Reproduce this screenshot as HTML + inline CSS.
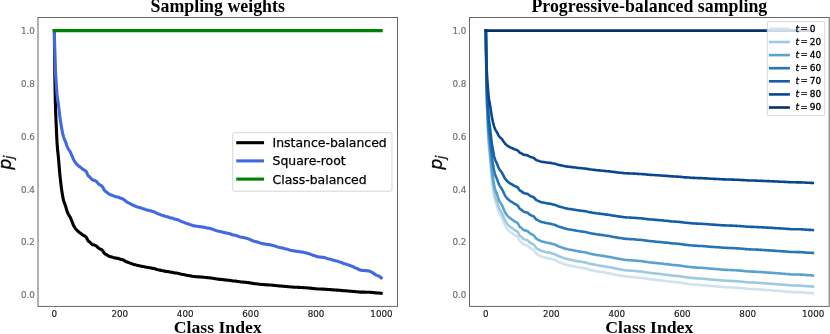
<!DOCTYPE html>
<html lang="en"><head><meta charset="utf-8"><title>Sampling weights</title>
<style>
html,body{margin:0;padding:0;background:#fff;overflow:hidden}
svg{display:block}
text{white-space:pre}
.tk{font-family:'DejaVu Sans','Liberation Sans',sans-serif;font-size:8.75px;stroke-width:0.2px}
.ser{font-family:'Liberation Serif','Times New Roman',serif;font-weight:bold;font-size:17.70px;fill:#000}
.ll{font-family:'DejaVu Sans','Liberation Sans',sans-serif;font-size:12.45px;fill:#000;stroke:#000;stroke-width:0.25px}
.lr{font-family:'DejaVu Sans','Liberation Sans',sans-serif;font-size:9.00px;fill:#000;stroke:#000;stroke-width:0.3px}
.c{fill:none;stroke-linecap:square;stroke-linejoin:round}
</style></head><body>
<svg width="830" height="334" viewBox="0 0 830 334">
<rect width="830" height="334" fill="#fff"/>
<g class="c" stroke-width="3.10">
<path stroke="#000" d="M54.34 30.63 L54.67 62.44 L55.00 85.78 L55.32 101.47 L55.65 111.76 L55.98 119.65 L56.30 127.16 L56.63 134.60 L56.96 141.29 L57.29 146.09 L57.61 149.78 L57.94 153.00 L58.27 156.19 L58.59 159.60 L58.92 163.34 L59.25 167.35 L59.58 171.33 L59.90 174.97 L60.23 178.17 L60.56 181.15 L60.88 183.90 L61.21 186.49 L61.54 188.93 L61.87 191.21 L62.19 193.34 L62.52 195.32 L62.85 197.10 L63.17 198.66 L63.50 200.01 L63.83 201.18 L64.16 202.22 L64.48 203.14 L64.81 203.99 L65.14 204.86 L65.46 205.81 L65.79 206.85 L66.12 207.95 L66.45 209.07 L66.77 210.20 L67.10 211.27 L67.43 212.20 L67.75 212.97 L68.08 213.65 L68.41 214.25 L68.74 214.80 L69.06 215.34 L69.39 215.89 L69.72 216.47 L70.04 217.07 L70.37 217.72 L70.70 218.41 L71.03 219.14 L71.35 219.94 L71.68 220.77 L72.01 221.61 L72.33 222.45 L72.66 223.26 L72.99 224.04 L73.32 224.79 L73.64 225.49 L73.97 226.14 L74.30 226.71 L74.62 227.24 L74.95 227.78 L75.28 228.32 L75.61 228.76 L75.93 229.14 L76.26 229.49 L76.59 229.82 L76.91 230.15 L77.24 230.47 L77.57 230.80 L77.90 231.13 L78.22 231.46 L78.55 231.76 L78.88 232.03 L79.20 232.27 L79.53 232.49 L79.86 232.71 L80.19 232.94 L80.51 233.19 L81.49 233.95 L82.48 234.70 L83.46 235.42 L84.44 235.87 L85.42 236.48 L86.40 237.36 L87.38 239.54 L88.36 241.21 L89.35 241.75 L90.33 242.58 L91.31 243.79 L92.29 244.49 L93.27 244.90 L94.25 245.08 L95.23 245.37 L96.22 245.83 L97.20 246.79 L98.18 247.80 L99.16 248.50 L100.14 249.02 L101.12 249.41 L102.10 250.07 L103.09 251.22 L104.07 252.85 L105.05 253.85 L106.03 254.45 L107.01 254.96 L107.99 255.65 L108.97 256.17 L109.96 256.53 L110.94 256.87 L111.92 257.03 L112.90 257.37 L113.88 257.67 L114.86 257.86 L115.84 258.13 L116.83 258.36 L117.81 258.36 L118.79 258.58 L119.77 258.96 L120.75 259.38 L121.73 259.56 L122.71 259.78 L123.70 260.22 L124.68 260.78 L125.66 261.33 L126.64 261.82 L127.62 262.19 L128.60 262.56 L129.58 262.92 L130.57 263.24 L131.55 263.65 L132.53 263.99 L133.51 264.43 L134.49 264.66 L135.47 264.77 L136.45 265.12 L137.44 265.41 L138.42 265.54 L139.40 265.71 L140.38 265.90 L141.36 266.14 L142.34 266.37 L143.32 266.56 L144.31 266.72 L145.29 266.98 L146.27 267.18 L147.25 267.34 L148.23 267.54 L149.21 267.72 L150.19 267.79 L151.18 268.00 L152.16 268.19 L153.14 268.35 L154.12 268.54 L155.10 268.80 L156.08 269.18 L157.06 269.44 L158.05 269.72 L159.03 269.91 L160.01 270.13 L160.99 270.37 L161.97 270.57 L162.95 270.70 L163.93 270.89 L164.92 271.16 L165.90 271.37 L166.88 271.51 L167.86 271.58 L168.84 271.80 L169.82 272.02 L170.80 272.16 L171.79 272.19 L172.77 272.37 L173.75 272.66 L174.73 272.86 L175.71 272.94 L176.69 273.06 L177.67 273.26 L178.66 273.41 L179.64 273.71 L180.62 273.97 L181.60 274.21 L182.58 274.42 L183.56 274.56 L184.54 274.79 L185.53 275.00 L186.51 275.22 L187.49 275.46 L188.47 275.55 L189.45 275.70 L190.43 275.90 L191.41 276.04 L192.40 276.26 L193.38 276.46 L194.36 276.53 L195.34 276.62 L196.32 276.70 L197.30 276.77 L198.28 276.84 L199.27 276.91 L200.25 277.01 L201.23 277.03 L202.21 277.09 L203.19 277.19 L204.17 277.31 L205.15 277.44 L206.14 277.54 L207.12 277.62 L208.10 277.71 L209.08 277.76 L210.06 277.83 L211.04 277.98 L212.02 278.18 L213.01 278.32 L213.99 278.46 L214.97 278.67 L215.95 278.84 L216.93 279.00 L217.91 279.13 L218.90 279.25 L219.88 279.35 L220.86 279.41 L221.84 279.51 L222.82 279.65 L223.80 279.79 L224.78 279.88 L225.77 279.99 L226.75 280.09 L227.73 280.19 L228.71 280.30 L229.69 280.40 L230.67 280.52 L231.65 280.73 L232.64 280.90 L233.62 280.99 L234.60 281.05 L235.58 281.11 L236.56 281.24 L237.54 281.42 L238.52 281.59 L239.51 281.74 L240.49 281.87 L241.47 281.96 L242.45 282.01 L243.43 282.09 L244.41 282.20 L245.39 282.30 L246.38 282.39 L247.36 282.48 L248.34 282.63 L249.32 282.78 L250.30 282.95 L251.28 283.14 L252.26 283.33 L253.25 283.56 L254.23 283.66 L255.21 283.70 L256.19 283.79 L257.17 283.92 L258.15 284.03 L259.13 284.17 L260.12 284.30 L261.10 284.42 L262.08 284.52 L263.06 284.57 L264.04 284.65 L265.02 284.75 L266.00 284.81 L266.99 284.85 L267.97 284.91 L268.95 284.95 L269.93 284.99 L270.91 285.07 L271.89 285.17 L272.87 285.26 L273.86 285.35 L274.84 285.43 L275.82 285.55 L276.80 285.68 L277.78 285.79 L278.76 285.88 L279.74 285.97 L280.73 286.05 L281.71 286.12 L282.69 286.19 L283.67 286.28 L284.65 286.39 L285.63 286.50 L286.61 286.54 L287.60 286.60 L288.58 286.73 L289.56 286.83 L290.54 286.92 L291.52 287.00 L292.50 287.07 L293.48 287.13 L294.47 287.19 L295.45 287.24 L296.43 287.29 L297.41 287.32 L298.39 287.36 L299.37 287.40 L300.35 287.45 L301.34 287.50 L302.32 287.56 L303.30 287.62 L304.28 287.68 L305.26 287.73 L306.24 287.79 L307.22 287.88 L308.21 287.95 L309.19 288.04 L310.17 288.16 L311.15 288.29 L312.13 288.40 L313.11 288.53 L314.09 288.62 L315.08 288.69 L316.06 288.81 L317.04 288.91 L318.02 288.96 L319.00 289.01 L319.98 289.04 L320.96 289.06 L321.95 289.08 L322.93 289.12 L323.91 289.17 L324.89 289.23 L325.87 289.32 L326.85 289.40 L327.83 289.49 L328.82 289.55 L329.80 289.60 L330.78 289.67 L331.76 289.76 L332.74 289.84 L333.72 289.91 L334.70 289.99 L335.69 290.06 L336.67 290.10 L337.65 290.16 L338.63 290.25 L339.61 290.32 L340.59 290.39 L341.57 290.49 L342.56 290.59 L343.54 290.69 L344.52 290.78 L345.50 290.82 L346.48 290.89 L347.46 290.96 L348.44 291.04 L349.43 291.10 L350.41 291.18 L351.39 291.27 L352.37 291.35 L353.35 291.45 L354.33 291.55 L355.31 291.65 L356.30 291.71 L357.28 291.79 L358.26 291.90 L359.24 292.02 L360.22 292.08 L361.20 292.11 L362.18 292.13 L363.17 292.15 L364.15 292.15 L365.13 292.17 L366.11 292.18 L367.09 292.19 L368.07 292.21 L369.05 292.25 L370.04 292.30 L371.02 292.39 L372.00 292.48 L372.98 292.58 L373.96 292.65 L374.94 292.78 L375.92 292.87 L376.91 292.94 L377.89 292.99 L378.87 293.03 L379.85 293.12 L380.83 293.23 L381.16 293.27"/>
<path stroke="#4169e1" d="M54.34 30.63 L54.67 47.05 L55.00 59.82 L55.32 68.82 L55.65 74.91 L55.98 79.71 L56.30 84.38 L56.63 89.10 L56.96 93.44 L57.29 96.62 L57.61 99.09 L57.94 101.28 L58.27 103.47 L58.59 105.84 L58.92 108.47 L59.25 111.34 L59.58 114.23 L59.90 116.92 L60.23 119.32 L60.56 121.58 L60.88 123.69 L61.21 125.70 L61.54 127.62 L61.87 129.43 L62.19 131.14 L62.52 132.75 L62.85 134.21 L63.17 135.50 L63.50 136.63 L63.83 137.61 L64.16 138.48 L64.48 139.26 L64.81 139.99 L65.14 140.73 L65.46 141.55 L65.79 142.45 L66.12 143.41 L66.45 144.39 L66.77 145.39 L67.10 146.34 L67.43 147.17 L67.75 147.86 L68.08 148.47 L68.41 149.02 L68.74 149.52 L69.06 150.01 L69.39 150.52 L69.72 151.04 L70.04 151.61 L70.37 152.20 L70.70 152.84 L71.03 153.53 L71.35 154.27 L71.68 155.06 L72.01 155.86 L72.33 156.66 L72.66 157.44 L72.99 158.19 L73.32 158.92 L73.64 159.61 L73.97 160.24 L74.30 160.80 L74.62 161.33 L74.95 161.87 L75.28 162.40 L75.61 162.85 L75.93 163.22 L76.26 163.58 L76.59 163.92 L76.91 164.24 L77.24 164.57 L77.57 164.90 L77.90 165.24 L78.22 165.58 L78.55 165.89 L78.88 166.17 L79.20 166.41 L79.53 166.64 L79.86 166.87 L80.19 167.11 L80.51 167.37 L81.49 168.15 L82.48 168.95 L83.46 169.71 L84.44 170.18 L85.42 170.83 L86.40 171.77 L87.38 174.14 L88.36 175.98 L89.35 176.59 L90.33 177.52 L91.31 178.89 L92.29 179.70 L93.27 180.17 L94.25 180.38 L95.23 180.72 L96.22 181.26 L97.20 182.38 L98.18 183.57 L99.16 184.41 L100.14 185.03 L101.12 185.51 L102.10 186.31 L103.09 187.73 L104.07 189.76 L105.05 191.03 L106.03 191.80 L107.01 192.46 L107.99 193.35 L108.97 194.03 L109.96 194.50 L110.94 194.96 L111.92 195.17 L112.90 195.62 L113.88 196.03 L114.86 196.28 L115.84 196.65 L116.83 196.95 L117.81 196.96 L118.79 197.26 L119.77 197.77 L120.75 198.34 L121.73 198.59 L122.71 198.90 L123.70 199.51 L124.68 200.29 L125.66 201.06 L126.64 201.76 L127.62 202.28 L128.60 202.82 L129.58 203.33 L130.57 203.81 L131.55 204.40 L132.53 204.91 L133.51 205.55 L134.49 205.90 L135.47 206.06 L136.45 206.59 L137.44 207.03 L138.42 207.21 L139.40 207.47 L140.38 207.77 L141.36 208.13 L142.34 208.48 L143.32 208.78 L144.31 209.02 L145.29 209.43 L146.27 209.74 L147.25 209.99 L148.23 210.30 L149.21 210.59 L150.19 210.70 L151.18 211.02 L152.16 211.33 L153.14 211.58 L154.12 211.89 L155.10 212.30 L156.08 212.92 L157.06 213.34 L158.05 213.79 L159.03 214.11 L160.01 214.47 L160.99 214.88 L161.97 215.20 L162.95 215.41 L163.93 215.73 L164.92 216.19 L165.90 216.55 L166.88 216.79 L167.86 216.91 L168.84 217.28 L169.82 217.66 L170.80 217.90 L171.79 217.95 L172.77 218.25 L173.75 218.76 L174.73 219.11 L175.71 219.25 L176.69 219.46 L177.67 219.81 L178.66 220.09 L179.64 220.63 L180.62 221.09 L181.60 221.52 L182.58 221.91 L183.56 222.16 L184.54 222.58 L185.53 222.97 L186.51 223.37 L187.49 223.81 L188.47 223.99 L189.45 224.28 L190.43 224.65 L191.41 224.91 L192.40 225.34 L193.38 225.71 L194.36 225.85 L195.34 226.02 L196.32 226.19 L197.30 226.32 L198.28 226.46 L199.27 226.59 L200.25 226.78 L201.23 226.83 L202.21 226.94 L203.19 227.14 L204.17 227.36 L205.15 227.63 L206.14 227.82 L207.12 227.99 L208.10 228.16 L209.08 228.26 L210.06 228.40 L211.04 228.71 L212.02 229.11 L213.01 229.39 L213.99 229.68 L214.97 230.10 L215.95 230.46 L216.93 230.78 L217.91 231.06 L218.90 231.31 L219.88 231.51 L220.86 231.64 L221.84 231.86 L222.82 232.16 L223.80 232.44 L224.78 232.64 L225.77 232.88 L226.75 233.08 L227.73 233.31 L228.71 233.55 L229.69 233.77 L230.67 234.03 L231.65 234.48 L232.64 234.86 L233.62 235.07 L234.60 235.18 L235.58 235.34 L236.56 235.63 L237.54 236.03 L238.52 236.41 L239.51 236.76 L240.49 237.05 L241.47 237.27 L242.45 237.38 L243.43 237.57 L244.41 237.81 L245.39 238.04 L246.38 238.26 L247.36 238.47 L248.34 238.83 L249.32 239.19 L250.30 239.59 L251.28 240.06 L252.26 240.52 L253.25 241.08 L254.23 241.33 L255.21 241.43 L256.19 241.66 L257.17 241.98 L258.15 242.28 L259.13 242.62 L260.12 242.94 L261.10 243.27 L262.08 243.53 L263.06 243.64 L264.04 243.87 L265.02 244.12 L266.00 244.28 L266.99 244.39 L267.97 244.54 L268.95 244.65 L269.93 244.77 L270.91 244.97 L271.89 245.23 L272.87 245.49 L273.86 245.73 L274.84 245.94 L275.82 246.26 L276.80 246.63 L277.78 246.93 L278.76 247.19 L279.74 247.45 L280.73 247.67 L281.71 247.87 L282.69 248.05 L283.67 248.31 L284.65 248.62 L285.63 248.94 L286.61 249.08 L287.60 249.25 L288.58 249.62 L289.56 249.93 L290.54 250.19 L291.52 250.44 L292.50 250.64 L293.48 250.81 L294.47 251.01 L295.45 251.15 L296.43 251.30 L297.41 251.40 L298.39 251.54 L299.37 251.66 L300.35 251.81 L301.34 251.98 L302.32 252.15 L303.30 252.34 L304.28 252.52 L305.26 252.68 L306.24 252.87 L307.22 253.16 L308.21 253.39 L309.19 253.67 L310.17 254.08 L311.15 254.49 L312.13 254.87 L313.11 255.29 L314.09 255.61 L315.08 255.83 L316.06 256.25 L317.04 256.62 L318.02 256.78 L319.00 256.95 L319.98 257.06 L320.96 257.13 L321.95 257.22 L322.93 257.36 L323.91 257.54 L324.89 257.73 L325.87 258.07 L326.85 258.37 L327.83 258.68 L328.82 258.90 L329.80 259.09 L330.78 259.38 L331.76 259.71 L332.74 260.03 L333.72 260.27 L334.70 260.59 L335.69 260.86 L336.67 261.03 L337.65 261.27 L338.63 261.63 L339.61 261.92 L340.59 262.19 L341.57 262.61 L342.56 263.03 L343.54 263.45 L344.52 263.84 L345.50 264.02 L346.48 264.30 L347.46 264.62 L348.44 264.98 L349.43 265.27 L350.41 265.63 L351.39 266.06 L352.37 266.40 L353.35 266.87 L354.33 267.40 L355.31 267.89 L356.30 268.18 L357.28 268.56 L358.26 269.17 L359.24 269.77 L360.22 270.11 L361.20 270.29 L362.18 270.40 L363.17 270.50 L364.15 270.53 L365.13 270.61 L366.11 270.64 L367.09 270.70 L368.07 270.86 L369.05 271.09 L370.04 271.37 L371.02 271.85 L372.00 272.43 L372.98 273.01 L373.96 273.48 L374.94 274.31 L375.92 274.88 L376.91 275.34 L377.89 275.74 L378.87 275.99 L379.85 276.68 L380.83 277.53 L381.16 277.82"/>
<path stroke="#008000" d="M54.34 30.63 L381.16 30.63"/>
</g>
<g class="c" stroke-width="2.60">
<path stroke="#d0e1f2" d="M485.85 30.63 L486.18 62.44 L486.50 85.78 L486.83 101.47 L487.16 111.76 L487.49 119.65 L487.81 127.16 L488.14 134.60 L488.47 141.29 L488.80 146.09 L489.12 149.78 L489.45 153.00 L489.78 156.19 L490.11 159.60 L490.43 163.34 L490.76 167.35 L491.09 171.33 L491.41 174.97 L491.74 178.17 L492.07 181.15 L492.40 183.90 L492.72 186.49 L493.05 188.93 L493.38 191.21 L493.71 193.34 L494.03 195.32 L494.36 197.10 L494.69 198.66 L495.02 200.01 L495.34 201.18 L495.67 202.22 L496.00 203.14 L496.32 203.99 L496.65 204.86 L496.98 205.81 L497.31 206.85 L497.63 207.95 L497.96 209.07 L498.29 210.20 L498.62 211.27 L498.94 212.20 L499.27 212.97 L499.60 213.65 L499.93 214.25 L500.25 214.80 L500.58 215.34 L500.91 215.89 L501.23 216.47 L501.56 217.07 L501.89 217.72 L502.22 218.41 L502.54 219.14 L502.87 219.94 L503.20 220.77 L503.53 221.61 L503.85 222.45 L504.18 223.26 L504.51 224.04 L504.83 224.79 L505.16 225.49 L505.49 226.14 L505.82 226.71 L506.14 227.24 L506.47 227.78 L506.80 228.32 L507.13 228.76 L507.45 229.14 L507.78 229.49 L508.11 229.82 L508.44 230.15 L508.76 230.47 L509.09 230.80 L509.42 231.13 L509.74 231.46 L510.07 231.76 L510.40 232.03 L510.73 232.27 L511.05 232.49 L511.38 232.71 L511.71 232.94 L512.04 233.19 L513.02 233.95 L514.00 234.70 L514.98 235.42 L515.96 235.87 L516.95 236.48 L517.93 237.36 L518.91 239.54 L519.89 241.21 L520.87 241.75 L521.86 242.58 L522.84 243.79 L523.82 244.49 L524.80 244.90 L525.78 245.08 L526.77 245.37 L527.75 245.83 L528.73 246.79 L529.71 247.80 L530.69 248.50 L531.68 249.02 L532.66 249.41 L533.64 250.07 L534.62 251.22 L535.60 252.85 L536.59 253.85 L537.57 254.45 L538.55 254.96 L539.53 255.65 L540.51 256.17 L541.50 256.53 L542.48 256.87 L543.46 257.03 L544.44 257.37 L545.42 257.67 L546.41 257.86 L547.39 258.13 L548.37 258.36 L549.35 258.36 L550.33 258.58 L551.32 258.96 L552.30 259.38 L553.28 259.56 L554.26 259.78 L555.24 260.22 L556.23 260.78 L557.21 261.33 L558.19 261.82 L559.17 262.19 L560.15 262.56 L561.14 262.92 L562.12 263.24 L563.10 263.65 L564.08 263.99 L565.06 264.43 L566.05 264.66 L567.03 264.77 L568.01 265.12 L568.99 265.41 L569.97 265.54 L570.96 265.71 L571.94 265.90 L572.92 266.14 L573.90 266.37 L574.88 266.56 L575.87 266.72 L576.85 266.98 L577.83 267.18 L578.81 267.34 L579.79 267.54 L580.77 267.72 L581.76 267.79 L582.74 268.00 L583.72 268.19 L584.70 268.35 L585.68 268.54 L586.67 268.80 L587.65 269.18 L588.63 269.44 L589.61 269.72 L590.59 269.91 L591.58 270.13 L592.56 270.37 L593.54 270.57 L594.52 270.70 L595.50 270.89 L596.49 271.16 L597.47 271.37 L598.45 271.51 L599.43 271.58 L600.41 271.80 L601.40 272.02 L602.38 272.16 L603.36 272.19 L604.34 272.37 L605.32 272.66 L606.31 272.86 L607.29 272.94 L608.27 273.06 L609.25 273.26 L610.23 273.41 L611.22 273.71 L612.20 273.97 L613.18 274.21 L614.16 274.42 L615.14 274.56 L616.13 274.79 L617.11 275.00 L618.09 275.22 L619.07 275.46 L620.05 275.55 L621.04 275.70 L622.02 275.90 L623.00 276.04 L623.98 276.26 L624.96 276.46 L625.95 276.53 L626.93 276.62 L627.91 276.70 L628.89 276.77 L629.87 276.84 L630.86 276.91 L631.84 277.01 L632.82 277.03 L633.80 277.09 L634.78 277.19 L635.77 277.31 L636.75 277.44 L637.73 277.54 L638.71 277.62 L639.69 277.71 L640.68 277.76 L641.66 277.83 L642.64 277.98 L643.62 278.18 L644.60 278.32 L645.59 278.46 L646.57 278.67 L647.55 278.84 L648.53 279.00 L649.51 279.13 L650.50 279.25 L651.48 279.35 L652.46 279.41 L653.44 279.51 L654.42 279.65 L655.41 279.79 L656.39 279.88 L657.37 279.99 L658.35 280.09 L659.33 280.19 L660.32 280.30 L661.30 280.40 L662.28 280.52 L663.26 280.73 L664.24 280.90 L665.23 280.99 L666.21 281.05 L667.19 281.11 L668.17 281.24 L669.15 281.42 L670.14 281.59 L671.12 281.74 L672.10 281.87 L673.08 281.96 L674.06 282.01 L675.05 282.09 L676.03 282.20 L677.01 282.30 L677.99 282.39 L678.97 282.48 L679.96 282.63 L680.94 282.78 L681.92 282.95 L682.90 283.14 L683.88 283.33 L684.87 283.56 L685.85 283.66 L686.83 283.70 L687.81 283.79 L688.79 283.92 L689.77 284.03 L690.76 284.17 L691.74 284.30 L692.72 284.42 L693.70 284.52 L694.68 284.57 L695.67 284.65 L696.65 284.75 L697.63 284.81 L698.61 284.85 L699.59 284.91 L700.58 284.95 L701.56 284.99 L702.54 285.07 L703.52 285.17 L704.50 285.26 L705.49 285.35 L706.47 285.43 L707.45 285.55 L708.43 285.68 L709.41 285.79 L710.40 285.88 L711.38 285.97 L712.36 286.05 L713.34 286.12 L714.32 286.19 L715.31 286.28 L716.29 286.39 L717.27 286.50 L718.25 286.54 L719.23 286.60 L720.22 286.73 L721.20 286.83 L722.18 286.92 L723.16 287.00 L724.14 287.07 L725.13 287.13 L726.11 287.19 L727.09 287.24 L728.07 287.29 L729.05 287.32 L730.04 287.36 L731.02 287.40 L732.00 287.45 L732.98 287.50 L733.96 287.56 L734.95 287.62 L735.93 287.68 L736.91 287.73 L737.89 287.79 L738.87 287.88 L739.86 287.95 L740.84 288.04 L741.82 288.16 L742.80 288.29 L743.78 288.40 L744.77 288.53 L745.75 288.62 L746.73 288.69 L747.71 288.81 L748.69 288.91 L749.68 288.96 L750.66 289.01 L751.64 289.04 L752.62 289.06 L753.60 289.08 L754.59 289.12 L755.57 289.17 L756.55 289.23 L757.53 289.32 L758.51 289.40 L759.50 289.49 L760.48 289.55 L761.46 289.60 L762.44 289.67 L763.42 289.76 L764.41 289.84 L765.39 289.91 L766.37 289.99 L767.35 290.06 L768.33 290.10 L769.32 290.16 L770.30 290.25 L771.28 290.32 L772.26 290.39 L773.24 290.49 L774.23 290.59 L775.21 290.69 L776.19 290.78 L777.17 290.82 L778.15 290.89 L779.14 290.96 L780.12 291.04 L781.10 291.10 L782.08 291.18 L783.06 291.27 L784.05 291.35 L785.03 291.45 L786.01 291.55 L786.99 291.65 L787.97 291.71 L788.96 291.79 L789.94 291.90 L790.92 292.02 L791.90 292.08 L792.88 292.11 L793.87 292.13 L794.85 292.15 L795.83 292.15 L796.81 292.17 L797.79 292.18 L798.77 292.19 L799.76 292.21 L800.74 292.25 L801.72 292.30 L802.70 292.39 L803.68 292.48 L804.67 292.58 L805.65 292.65 L806.63 292.78 L807.61 292.87 L808.59 292.94 L809.58 292.99 L810.56 293.03 L811.54 293.12 L812.52 293.23 L812.85 293.27"/>
<path stroke="#9dc9e1" d="M485.85 30.63 L486.18 61.64 L486.50 84.39 L486.83 99.69 L487.16 109.71 L487.49 117.41 L487.81 124.73 L488.14 131.98 L488.47 138.50 L488.80 143.18 L489.12 146.78 L489.45 149.91 L489.78 153.02 L490.11 156.35 L490.43 159.99 L490.76 163.90 L491.09 167.78 L491.41 171.34 L491.74 174.45 L492.07 177.36 L492.40 180.04 L492.72 182.56 L493.05 184.94 L493.38 187.16 L493.71 189.24 L494.03 191.16 L494.36 192.90 L494.69 194.43 L495.02 195.74 L495.34 196.89 L495.67 197.89 L496.00 198.79 L496.32 199.62 L496.65 200.47 L496.98 201.39 L497.31 202.41 L497.63 203.48 L497.96 204.57 L498.29 205.67 L498.62 206.72 L498.94 207.62 L499.27 208.37 L499.60 209.03 L499.93 209.62 L500.25 210.16 L500.58 210.68 L500.91 211.22 L501.23 211.78 L501.56 212.38 L501.89 213.00 L502.22 213.67 L502.54 214.39 L502.87 215.16 L503.20 215.97 L503.53 216.80 L503.85 217.62 L504.18 218.40 L504.51 219.16 L504.83 219.89 L505.16 220.58 L505.49 221.21 L505.82 221.77 L506.14 222.29 L506.47 222.81 L506.80 223.33 L507.13 223.77 L507.45 224.14 L507.78 224.48 L508.11 224.80 L508.44 225.12 L508.76 225.44 L509.09 225.75 L509.42 226.08 L509.74 226.39 L510.07 226.69 L510.40 226.96 L510.73 227.19 L511.05 227.40 L511.38 227.62 L511.71 227.84 L512.04 228.09 L513.02 228.82 L514.00 229.56 L514.98 230.26 L515.96 230.69 L516.95 231.29 L517.93 232.15 L518.91 234.27 L519.89 235.90 L520.87 236.43 L521.86 237.23 L522.84 238.41 L523.82 239.10 L524.80 239.50 L525.78 239.67 L526.77 239.96 L527.75 240.41 L528.73 241.34 L529.71 242.33 L530.69 243.01 L531.68 243.51 L532.66 243.90 L533.64 244.53 L534.62 245.66 L535.60 247.25 L536.59 248.23 L537.57 248.81 L538.55 249.31 L539.53 249.98 L540.51 250.48 L541.50 250.83 L542.48 251.17 L543.46 251.33 L544.44 251.65 L545.42 251.95 L546.41 252.13 L547.39 252.40 L548.37 252.62 L549.35 252.62 L550.33 252.84 L551.32 253.21 L552.30 253.61 L553.28 253.79 L554.26 254.01 L555.24 254.43 L556.23 254.98 L557.21 255.51 L558.19 255.99 L559.17 256.35 L560.15 256.71 L561.14 257.06 L562.12 257.38 L563.10 257.77 L564.08 258.11 L565.06 258.53 L566.05 258.76 L567.03 258.87 L568.01 259.21 L568.99 259.49 L569.97 259.61 L570.96 259.78 L571.94 259.97 L572.92 260.20 L573.90 260.42 L574.88 260.61 L575.87 260.77 L576.85 261.02 L577.83 261.22 L578.81 261.38 L579.79 261.57 L580.77 261.75 L581.76 261.82 L582.74 262.01 L583.72 262.20 L584.70 262.36 L585.68 262.55 L586.67 262.80 L587.65 263.17 L588.63 263.42 L589.61 263.69 L590.59 263.88 L591.58 264.10 L592.56 264.33 L593.54 264.52 L594.52 264.64 L595.50 264.83 L596.49 265.10 L597.47 265.31 L598.45 265.44 L599.43 265.51 L600.41 265.72 L601.40 265.94 L602.38 266.07 L603.36 266.10 L604.34 266.27 L605.32 266.56 L606.31 266.75 L607.29 266.83 L608.27 266.94 L609.25 267.14 L610.23 267.29 L611.22 267.59 L612.20 267.84 L613.18 268.07 L614.16 268.28 L615.14 268.41 L616.13 268.63 L617.11 268.84 L618.09 269.05 L619.07 269.29 L620.05 269.38 L621.04 269.53 L622.02 269.72 L623.00 269.85 L623.98 270.07 L624.96 270.26 L625.95 270.33 L626.93 270.42 L627.91 270.50 L628.89 270.57 L629.87 270.64 L630.86 270.70 L631.84 270.80 L632.82 270.82 L633.80 270.88 L634.78 270.98 L635.77 271.09 L636.75 271.22 L637.73 271.31 L638.71 271.40 L639.69 271.48 L640.68 271.53 L641.66 271.60 L642.64 271.75 L643.62 271.94 L644.60 272.08 L645.59 272.22 L646.57 272.42 L647.55 272.58 L648.53 272.74 L649.51 272.87 L650.50 272.98 L651.48 273.08 L652.46 273.14 L653.44 273.24 L654.42 273.38 L655.41 273.51 L656.39 273.60 L657.37 273.70 L658.35 273.80 L659.33 273.90 L660.32 274.01 L661.30 274.11 L662.28 274.22 L663.26 274.42 L664.24 274.59 L665.23 274.68 L666.21 274.73 L667.19 274.80 L668.17 274.93 L669.15 275.10 L670.14 275.26 L671.12 275.41 L672.10 275.54 L673.08 275.63 L674.06 275.67 L675.05 275.76 L676.03 275.86 L677.01 275.95 L677.99 276.04 L678.97 276.13 L679.96 276.28 L680.94 276.43 L681.92 276.59 L682.90 276.78 L683.88 276.96 L684.87 277.18 L685.85 277.28 L686.83 277.32 L687.81 277.41 L688.79 277.53 L689.77 277.65 L690.76 277.78 L691.74 277.90 L692.72 278.03 L693.70 278.12 L694.68 278.17 L695.67 278.25 L696.65 278.34 L697.63 278.40 L698.61 278.44 L699.59 278.50 L700.58 278.54 L701.56 278.58 L702.54 278.66 L703.52 278.75 L704.50 278.84 L705.49 278.93 L706.47 279.01 L707.45 279.12 L708.43 279.25 L709.41 279.36 L710.40 279.45 L711.38 279.54 L712.36 279.61 L713.34 279.68 L714.32 279.74 L715.31 279.83 L716.29 279.94 L717.27 280.05 L718.25 280.09 L719.23 280.15 L720.22 280.27 L721.20 280.37 L722.18 280.46 L723.16 280.54 L724.14 280.60 L725.13 280.66 L726.11 280.72 L727.09 280.77 L728.07 280.82 L729.05 280.85 L730.04 280.89 L731.02 280.93 L732.00 280.98 L732.98 281.03 L733.96 281.09 L734.95 281.14 L735.93 281.20 L736.91 281.25 L737.89 281.31 L738.87 281.39 L739.86 281.46 L740.84 281.55 L741.82 281.67 L742.80 281.79 L743.78 281.90 L744.77 282.03 L745.75 282.12 L746.73 282.18 L747.71 282.30 L748.69 282.40 L749.68 282.45 L750.66 282.49 L751.64 282.53 L752.62 282.54 L753.60 282.57 L754.59 282.61 L755.57 282.66 L756.55 282.71 L757.53 282.80 L758.51 282.88 L759.50 282.96 L760.48 283.02 L761.46 283.07 L762.44 283.14 L763.42 283.23 L764.41 283.31 L765.39 283.37 L766.37 283.45 L767.35 283.52 L768.33 283.56 L769.32 283.62 L770.30 283.71 L771.28 283.78 L772.26 283.84 L773.24 283.94 L774.23 284.04 L775.21 284.13 L776.19 284.22 L777.17 284.26 L778.15 284.33 L779.14 284.40 L780.12 284.47 L781.10 284.54 L782.08 284.61 L783.06 284.70 L784.05 284.77 L785.03 284.87 L786.01 284.98 L786.99 285.07 L787.97 285.13 L788.96 285.20 L789.94 285.32 L790.92 285.43 L791.90 285.49 L792.88 285.52 L793.87 285.54 L794.85 285.56 L795.83 285.56 L796.81 285.58 L797.79 285.58 L798.77 285.59 L799.76 285.62 L800.74 285.66 L801.72 285.71 L802.70 285.79 L803.68 285.88 L804.67 285.98 L805.65 286.05 L806.63 286.18 L807.61 286.26 L808.59 286.32 L809.58 286.38 L810.56 286.41 L811.54 286.50 L812.52 286.61 L812.85 286.65"/>
<path stroke="#59a2cf" d="M485.85 30.63 L486.18 60.30 L486.50 82.06 L486.83 96.69 L487.16 106.28 L487.49 113.64 L487.81 120.65 L488.14 127.58 L488.47 133.82 L488.80 138.29 L489.12 141.73 L489.45 144.74 L489.78 147.71 L490.11 150.89 L490.43 154.38 L490.76 158.12 L491.09 161.83 L491.41 165.23 L491.74 168.21 L492.07 170.99 L492.40 173.56 L492.72 175.97 L493.05 178.24 L493.38 180.37 L493.71 182.35 L494.03 184.20 L494.36 185.86 L494.69 187.32 L495.02 188.58 L495.34 189.67 L495.67 190.63 L496.00 191.49 L496.32 192.29 L496.65 193.10 L496.98 193.98 L497.31 194.95 L497.63 195.98 L497.96 197.03 L498.29 198.07 L498.62 199.07 L498.94 199.94 L499.27 200.66 L499.60 201.29 L499.93 201.85 L500.25 202.37 L500.58 202.87 L500.91 203.38 L501.23 203.92 L501.56 204.49 L501.89 205.09 L502.22 205.73 L502.54 206.42 L502.87 207.15 L503.20 207.93 L503.53 208.72 L503.85 209.50 L504.18 210.25 L504.51 210.98 L504.83 211.68 L505.16 212.34 L505.49 212.94 L505.82 213.47 L506.14 213.97 L506.47 214.47 L506.80 214.97 L507.13 215.39 L507.45 215.74 L507.78 216.06 L508.11 216.38 L508.44 216.68 L508.76 216.98 L509.09 217.28 L509.42 217.59 L509.74 217.90 L510.07 218.18 L510.40 218.43 L510.73 218.66 L511.05 218.86 L511.38 219.07 L511.71 219.28 L512.04 219.52 L513.02 220.22 L514.00 220.93 L514.98 221.60 L515.96 222.01 L516.95 222.58 L517.93 223.40 L518.91 225.43 L519.89 226.99 L520.87 227.50 L521.86 228.27 L522.84 229.40 L523.82 230.05 L524.80 230.43 L525.78 230.60 L526.77 230.87 L527.75 231.31 L528.73 232.20 L529.71 233.14 L530.69 233.79 L531.68 234.27 L532.66 234.64 L533.64 235.25 L534.62 236.33 L535.60 237.85 L536.59 238.78 L537.57 239.34 L538.55 239.82 L539.53 240.46 L540.51 240.94 L541.50 241.28 L542.48 241.60 L543.46 241.75 L544.44 242.06 L545.42 242.34 L546.41 242.52 L547.39 242.77 L548.37 242.98 L549.35 242.99 L550.33 243.19 L551.32 243.55 L552.30 243.93 L553.28 244.10 L554.26 244.31 L555.24 244.72 L556.23 245.24 L557.21 245.75 L558.19 246.21 L559.17 246.55 L560.15 246.90 L561.14 247.23 L562.12 247.54 L563.10 247.91 L564.08 248.24 L565.06 248.64 L566.05 248.86 L567.03 248.96 L568.01 249.29 L568.99 249.56 L569.97 249.68 L570.96 249.84 L571.94 250.02 L572.92 250.24 L573.90 250.45 L574.88 250.63 L575.87 250.78 L576.85 251.02 L577.83 251.21 L578.81 251.36 L579.79 251.54 L580.77 251.72 L581.76 251.78 L582.74 251.97 L583.72 252.15 L584.70 252.30 L585.68 252.48 L586.67 252.72 L587.65 253.08 L588.63 253.32 L589.61 253.57 L590.59 253.76 L591.58 253.96 L592.56 254.19 L593.54 254.37 L594.52 254.49 L595.50 254.67 L596.49 254.92 L597.47 255.12 L598.45 255.25 L599.43 255.31 L600.41 255.52 L601.40 255.72 L602.38 255.85 L603.36 255.88 L604.34 256.04 L605.32 256.32 L606.31 256.50 L607.29 256.58 L608.27 256.69 L609.25 256.87 L610.23 257.02 L611.22 257.30 L612.20 257.54 L613.18 257.76 L614.16 257.96 L615.14 258.09 L616.13 258.30 L617.11 258.50 L618.09 258.70 L619.07 258.93 L620.05 259.01 L621.04 259.16 L622.02 259.34 L623.00 259.47 L623.98 259.68 L624.96 259.86 L625.95 259.93 L626.93 260.01 L627.91 260.09 L628.89 260.15 L629.87 260.22 L630.86 260.28 L631.84 260.37 L632.82 260.40 L633.80 260.45 L634.78 260.55 L635.77 260.65 L636.75 260.78 L637.73 260.87 L638.71 260.95 L639.69 261.03 L640.68 261.07 L641.66 261.14 L642.64 261.28 L643.62 261.47 L644.60 261.60 L645.59 261.73 L646.57 261.92 L647.55 262.08 L648.53 262.23 L649.51 262.36 L650.50 262.46 L651.48 262.55 L652.46 262.61 L653.44 262.71 L654.42 262.84 L655.41 262.96 L656.39 263.05 L657.37 263.15 L658.35 263.24 L659.33 263.34 L660.32 263.45 L661.30 263.54 L662.28 263.65 L663.26 263.84 L664.24 264.00 L665.23 264.09 L666.21 264.14 L667.19 264.20 L668.17 264.32 L669.15 264.49 L670.14 264.64 L671.12 264.79 L672.10 264.91 L673.08 264.99 L674.06 265.04 L675.05 265.12 L676.03 265.21 L677.01 265.30 L677.99 265.39 L678.97 265.47 L679.96 265.61 L680.94 265.76 L681.92 265.91 L682.90 266.09 L683.88 266.27 L684.87 266.48 L685.85 266.57 L686.83 266.61 L687.81 266.70 L688.79 266.82 L689.77 266.93 L690.76 267.05 L691.74 267.17 L692.72 267.29 L693.70 267.38 L694.68 267.42 L695.67 267.50 L696.65 267.59 L697.63 267.65 L698.61 267.69 L699.59 267.74 L700.58 267.78 L701.56 267.82 L702.54 267.89 L703.52 267.98 L704.50 268.07 L705.49 268.15 L706.47 268.23 L707.45 268.33 L708.43 268.46 L709.41 268.56 L710.40 268.65 L711.38 268.73 L712.36 268.81 L713.34 268.87 L714.32 268.93 L715.31 269.02 L716.29 269.12 L717.27 269.22 L718.25 269.26 L719.23 269.32 L720.22 269.44 L721.20 269.53 L722.18 269.62 L723.16 269.69 L724.14 269.75 L725.13 269.81 L726.11 269.87 L727.09 269.91 L728.07 269.96 L729.05 269.99 L730.04 270.03 L731.02 270.07 L732.00 270.11 L732.98 270.16 L733.96 270.21 L734.95 270.27 L735.93 270.32 L736.91 270.37 L737.89 270.43 L738.87 270.51 L739.86 270.58 L740.84 270.66 L741.82 270.78 L742.80 270.89 L743.78 271.00 L744.77 271.12 L745.75 271.20 L746.73 271.26 L747.71 271.38 L748.69 271.48 L749.68 271.52 L750.66 271.56 L751.64 271.59 L752.62 271.61 L753.60 271.63 L754.59 271.67 L755.57 271.72 L756.55 271.77 L757.53 271.85 L758.51 271.93 L759.50 272.01 L760.48 272.06 L761.46 272.11 L762.44 272.18 L763.42 272.27 L764.41 272.34 L765.39 272.40 L766.37 272.48 L767.35 272.54 L768.33 272.58 L769.32 272.64 L770.30 272.72 L771.28 272.79 L772.26 272.85 L773.24 272.95 L774.23 273.04 L775.21 273.13 L776.19 273.22 L777.17 273.26 L778.15 273.31 L779.14 273.38 L780.12 273.46 L781.10 273.52 L782.08 273.59 L783.06 273.68 L784.05 273.74 L785.03 273.84 L786.01 273.94 L786.99 274.03 L787.97 274.08 L788.96 274.15 L789.94 274.26 L790.92 274.37 L791.90 274.43 L792.88 274.46 L793.87 274.48 L794.85 274.49 L795.83 274.50 L796.81 274.51 L797.79 274.52 L798.77 274.53 L799.76 274.55 L800.74 274.59 L801.72 274.64 L802.70 274.71 L803.68 274.81 L804.67 274.89 L805.65 274.96 L806.63 275.08 L807.61 275.16 L808.59 275.23 L809.58 275.28 L810.56 275.31 L811.54 275.40 L812.52 275.50 L812.85 275.54"/>
<path stroke="#2575b7" d="M485.85 30.63 L486.18 57.57 L486.50 77.33 L486.83 90.62 L487.16 99.32 L487.49 106.01 L487.81 112.37 L488.14 118.67 L488.47 124.33 L488.80 128.39 L489.12 131.52 L489.45 134.24 L489.78 136.94 L490.11 139.84 L490.43 143.00 L490.76 146.39 L491.09 149.76 L491.41 152.85 L491.74 155.56 L492.07 158.08 L492.40 160.41 L492.72 162.60 L493.05 164.67 L493.38 166.60 L493.71 168.40 L494.03 170.08 L494.36 171.58 L494.69 172.91 L495.02 174.05 L495.34 175.04 L495.67 175.92 L496.00 176.70 L496.32 177.42 L496.65 178.16 L496.98 178.96 L497.31 179.84 L497.63 180.77 L497.96 181.72 L498.29 182.68 L498.62 183.58 L498.94 184.37 L499.27 185.02 L499.60 185.60 L499.93 186.11 L500.25 186.58 L500.58 187.03 L500.91 187.50 L501.23 187.98 L501.56 188.50 L501.89 189.05 L502.22 189.63 L502.54 190.25 L502.87 190.92 L503.20 191.62 L503.53 192.34 L503.85 193.05 L504.18 193.74 L504.51 194.39 L504.83 195.03 L505.16 195.63 L505.49 196.17 L505.82 196.66 L506.14 197.11 L506.47 197.56 L506.80 198.02 L507.13 198.40 L507.45 198.71 L507.78 199.01 L508.11 199.29 L508.44 199.57 L508.76 199.84 L509.09 200.12 L509.42 200.40 L509.74 200.68 L510.07 200.94 L510.40 201.16 L510.73 201.37 L511.05 201.55 L511.38 201.74 L511.71 201.94 L512.04 202.15 L513.02 202.78 L514.00 203.43 L514.98 204.04 L515.96 204.41 L516.95 204.93 L517.93 205.67 L518.91 207.52 L519.89 208.93 L520.87 209.39 L521.86 210.09 L522.84 211.12 L523.82 211.71 L524.80 212.06 L525.78 212.21 L526.77 212.46 L527.75 212.85 L528.73 213.66 L529.71 214.52 L530.69 215.11 L531.68 215.54 L532.66 215.88 L533.64 216.43 L534.62 217.41 L535.60 218.79 L536.59 219.64 L537.57 220.15 L538.55 220.58 L539.53 221.16 L540.51 221.60 L541.50 221.91 L542.48 222.20 L543.46 222.33 L544.44 222.62 L545.42 222.87 L546.41 223.03 L547.39 223.27 L548.37 223.45 L549.35 223.46 L550.33 223.65 L551.32 223.97 L552.30 224.32 L553.28 224.47 L554.26 224.66 L555.24 225.03 L556.23 225.50 L557.21 225.97 L558.19 226.38 L559.17 226.70 L560.15 227.01 L561.14 227.31 L562.12 227.59 L563.10 227.93 L564.08 228.23 L565.06 228.59 L566.05 228.79 L567.03 228.89 L568.01 229.18 L568.99 229.43 L569.97 229.53 L570.96 229.68 L571.94 229.84 L572.92 230.04 L573.90 230.24 L574.88 230.40 L575.87 230.53 L576.85 230.76 L577.83 230.93 L578.81 231.06 L579.79 231.23 L580.77 231.38 L581.76 231.45 L582.74 231.62 L583.72 231.78 L584.70 231.91 L585.68 232.08 L586.67 232.30 L587.65 232.62 L588.63 232.84 L589.61 233.07 L590.59 233.24 L591.58 233.42 L592.56 233.63 L593.54 233.79 L594.52 233.90 L595.50 234.06 L596.49 234.30 L597.47 234.48 L598.45 234.60 L599.43 234.65 L600.41 234.84 L601.40 235.03 L602.38 235.14 L603.36 235.17 L604.34 235.32 L605.32 235.56 L606.31 235.73 L607.29 235.80 L608.27 235.90 L609.25 236.07 L610.23 236.20 L611.22 236.46 L612.20 236.67 L613.18 236.88 L614.16 237.06 L615.14 237.17 L616.13 237.37 L617.11 237.55 L618.09 237.73 L619.07 237.93 L620.05 238.01 L621.04 238.14 L622.02 238.31 L623.00 238.42 L623.98 238.61 L624.96 238.78 L625.95 238.84 L626.93 238.92 L627.91 238.99 L628.89 239.04 L629.87 239.11 L630.86 239.17 L631.84 239.25 L632.82 239.27 L633.80 239.32 L634.78 239.40 L635.77 239.50 L636.75 239.62 L637.73 239.69 L638.71 239.77 L639.69 239.84 L640.68 239.88 L641.66 239.94 L642.64 240.07 L643.62 240.24 L644.60 240.36 L645.59 240.48 L646.57 240.65 L647.55 240.80 L648.53 240.93 L649.51 241.05 L650.50 241.15 L651.48 241.23 L652.46 241.28 L653.44 241.37 L654.42 241.49 L655.41 241.60 L656.39 241.68 L657.37 241.77 L658.35 241.85 L659.33 241.94 L660.32 242.04 L661.30 242.12 L662.28 242.22 L663.26 242.40 L664.24 242.54 L665.23 242.62 L666.21 242.67 L667.19 242.72 L668.17 242.83 L669.15 242.98 L670.14 243.12 L671.12 243.26 L672.10 243.36 L673.08 243.44 L674.06 243.48 L675.05 243.55 L676.03 243.64 L677.01 243.72 L677.99 243.80 L678.97 243.88 L679.96 244.01 L680.94 244.13 L681.92 244.27 L682.90 244.44 L683.88 244.60 L684.87 244.79 L685.85 244.88 L686.83 244.91 L687.81 244.99 L688.79 245.10 L689.77 245.20 L690.76 245.31 L691.74 245.42 L692.72 245.53 L693.70 245.61 L694.68 245.65 L695.67 245.72 L696.65 245.80 L697.63 245.85 L698.61 245.89 L699.59 245.94 L700.58 245.97 L701.56 246.01 L702.54 246.07 L703.52 246.15 L704.50 246.24 L705.49 246.31 L706.47 246.38 L707.45 246.48 L708.43 246.59 L709.41 246.68 L710.40 246.76 L711.38 246.84 L712.36 246.90 L713.34 246.96 L714.32 247.02 L715.31 247.10 L716.29 247.19 L717.27 247.28 L718.25 247.32 L719.23 247.37 L720.22 247.48 L721.20 247.56 L722.18 247.64 L723.16 247.71 L724.14 247.76 L725.13 247.81 L726.11 247.87 L727.09 247.91 L728.07 247.95 L729.05 247.98 L730.04 248.02 L731.02 248.05 L732.00 248.09 L732.98 248.13 L733.96 248.18 L734.95 248.23 L735.93 248.28 L736.91 248.33 L737.89 248.38 L738.87 248.45 L739.86 248.51 L740.84 248.58 L741.82 248.69 L742.80 248.80 L743.78 248.89 L744.77 249.00 L745.75 249.08 L746.73 249.13 L747.71 249.24 L748.69 249.33 L749.68 249.37 L750.66 249.41 L751.64 249.43 L752.62 249.45 L753.60 249.47 L754.59 249.50 L755.57 249.55 L756.55 249.59 L757.53 249.67 L758.51 249.74 L759.50 249.81 L760.48 249.86 L761.46 249.91 L762.44 249.97 L763.42 250.04 L764.41 250.12 L765.39 250.17 L766.37 250.24 L767.35 250.30 L768.33 250.33 L769.32 250.38 L770.30 250.46 L771.28 250.52 L772.26 250.58 L773.24 250.66 L774.23 250.75 L775.21 250.83 L776.19 250.91 L777.17 250.94 L778.15 251.00 L779.14 251.06 L780.12 251.13 L781.10 251.18 L782.08 251.25 L783.06 251.33 L784.05 251.39 L785.03 251.47 L786.01 251.56 L786.99 251.65 L787.97 251.70 L788.96 251.76 L789.94 251.86 L790.92 251.95 L791.90 252.01 L792.88 252.04 L793.87 252.05 L794.85 252.07 L795.83 252.07 L796.81 252.08 L797.79 252.09 L798.77 252.10 L799.76 252.12 L800.74 252.16 L801.72 252.20 L802.70 252.27 L803.68 252.35 L804.67 252.43 L805.65 252.49 L806.63 252.60 L807.61 252.68 L808.59 252.73 L809.58 252.78 L810.56 252.81 L811.54 252.89 L812.52 252.98 L812.85 253.01"/>
<path stroke="#135fa7" d="M485.85 30.63 L486.18 54.79 L486.50 72.52 L486.83 84.43 L487.16 92.24 L487.49 98.24 L487.81 103.94 L488.14 109.59 L488.47 114.67 L488.80 118.32 L489.12 121.12 L489.45 123.56 L489.78 125.98 L490.11 128.58 L490.43 131.41 L490.76 134.46 L491.09 137.48 L491.41 140.25 L491.74 142.68 L492.07 144.94 L492.40 147.03 L492.72 149.00 L493.05 150.85 L493.38 152.58 L493.71 154.20 L494.03 155.70 L494.36 157.05 L494.69 158.24 L495.02 159.27 L495.34 160.16 L495.67 160.94 L496.00 161.64 L496.32 162.29 L496.65 162.95 L496.98 163.67 L497.31 164.46 L497.63 165.29 L497.96 166.15 L498.29 167.00 L498.62 167.81 L498.94 168.52 L499.27 169.11 L499.60 169.62 L499.93 170.08 L500.25 170.50 L500.58 170.91 L500.91 171.32 L501.23 171.76 L501.56 172.22 L501.89 172.71 L502.22 173.24 L502.54 173.80 L502.87 174.40 L503.20 175.03 L503.53 175.67 L503.85 176.31 L504.18 176.92 L504.51 177.51 L504.83 178.08 L505.16 178.62 L505.49 179.11 L505.82 179.54 L506.14 179.95 L506.47 180.35 L506.80 180.76 L507.13 181.10 L507.45 181.39 L507.78 181.65 L508.11 181.91 L508.44 182.15 L508.76 182.40 L509.09 182.65 L509.42 182.90 L509.74 183.15 L510.07 183.38 L510.40 183.58 L510.73 183.76 L511.05 183.93 L511.38 184.10 L511.71 184.27 L512.04 184.46 L513.02 185.04 L514.00 185.61 L514.98 186.16 L515.96 186.50 L516.95 186.96 L517.93 187.63 L518.91 189.28 L519.89 190.55 L520.87 190.96 L521.86 191.59 L522.84 192.51 L523.82 193.04 L524.80 193.35 L525.78 193.49 L526.77 193.71 L527.75 194.06 L528.73 194.79 L529.71 195.56 L530.69 196.09 L531.68 196.48 L532.66 196.78 L533.64 197.28 L534.62 198.16 L535.60 199.40 L536.59 200.15 L537.57 200.61 L538.55 201.00 L539.53 201.52 L540.51 201.91 L541.50 202.19 L542.48 202.45 L543.46 202.57 L544.44 202.82 L545.42 203.05 L546.41 203.20 L547.39 203.40 L548.37 203.57 L549.35 203.58 L550.33 203.75 L551.32 204.03 L552.30 204.35 L553.28 204.49 L554.26 204.66 L555.24 204.99 L556.23 205.41 L557.21 205.83 L558.19 206.20 L559.17 206.48 L560.15 206.77 L561.14 207.04 L562.12 207.28 L563.10 207.59 L564.08 207.86 L565.06 208.19 L566.05 208.36 L567.03 208.45 L568.01 208.71 L568.99 208.93 L569.97 209.03 L570.96 209.16 L571.94 209.30 L572.92 209.48 L573.90 209.66 L574.88 209.80 L575.87 209.92 L576.85 210.12 L577.83 210.28 L578.81 210.40 L579.79 210.55 L580.77 210.69 L581.76 210.74 L582.74 210.89 L583.72 211.04 L584.70 211.16 L585.68 211.31 L586.67 211.50 L587.65 211.80 L588.63 211.99 L589.61 212.20 L590.59 212.35 L591.58 212.52 L592.56 212.70 L593.54 212.85 L594.52 212.95 L595.50 213.09 L596.49 213.30 L597.47 213.46 L598.45 213.57 L599.43 213.62 L600.41 213.78 L601.40 213.95 L602.38 214.06 L603.36 214.08 L604.34 214.21 L605.32 214.44 L606.31 214.59 L607.29 214.65 L608.27 214.74 L609.25 214.89 L610.23 215.01 L611.22 215.24 L612.20 215.43 L613.18 215.61 L614.16 215.77 L615.14 215.88 L616.13 216.05 L617.11 216.22 L618.09 216.38 L619.07 216.56 L620.05 216.63 L621.04 216.75 L622.02 216.90 L623.00 217.00 L623.98 217.17 L624.96 217.32 L625.95 217.37 L626.93 217.44 L627.91 217.51 L628.89 217.56 L629.87 217.61 L630.86 217.67 L631.84 217.74 L632.82 217.76 L633.80 217.80 L634.78 217.88 L635.77 217.97 L636.75 218.07 L637.73 218.14 L638.71 218.21 L639.69 218.27 L640.68 218.31 L641.66 218.36 L642.64 218.48 L643.62 218.63 L644.60 218.74 L645.59 218.84 L646.57 219.00 L647.55 219.13 L648.53 219.25 L649.51 219.35 L650.50 219.44 L651.48 219.52 L652.46 219.56 L653.44 219.64 L654.42 219.75 L655.41 219.85 L656.39 219.92 L657.37 220.00 L658.35 220.08 L659.33 220.16 L660.32 220.24 L661.30 220.32 L662.28 220.41 L663.26 220.56 L664.24 220.70 L665.23 220.77 L666.21 220.80 L667.19 220.86 L668.17 220.96 L669.15 221.09 L670.14 221.22 L671.12 221.34 L672.10 221.43 L673.08 221.50 L674.06 221.54 L675.05 221.60 L676.03 221.68 L677.01 221.75 L677.99 221.82 L678.97 221.89 L679.96 222.01 L680.94 222.12 L681.92 222.25 L682.90 222.40 L683.88 222.54 L684.87 222.71 L685.85 222.79 L686.83 222.82 L687.81 222.89 L688.79 222.99 L689.77 223.08 L690.76 223.18 L691.74 223.27 L692.72 223.37 L693.70 223.45 L694.68 223.48 L695.67 223.55 L696.65 223.62 L697.63 223.66 L698.61 223.70 L699.59 223.74 L700.58 223.77 L701.56 223.80 L702.54 223.86 L703.52 223.93 L704.50 224.01 L705.49 224.07 L706.47 224.13 L707.45 224.22 L708.43 224.32 L709.41 224.41 L710.40 224.48 L711.38 224.55 L712.36 224.61 L713.34 224.66 L714.32 224.71 L715.31 224.78 L716.29 224.86 L717.27 224.94 L718.25 224.98 L719.23 225.03 L720.22 225.12 L721.20 225.20 L722.18 225.27 L723.16 225.33 L724.14 225.38 L725.13 225.42 L726.11 225.47 L727.09 225.51 L728.07 225.54 L729.05 225.57 L730.04 225.60 L731.02 225.63 L732.00 225.67 L732.98 225.71 L733.96 225.75 L734.95 225.80 L735.93 225.84 L736.91 225.88 L737.89 225.93 L738.87 225.99 L739.86 226.05 L740.84 226.11 L741.82 226.21 L742.80 226.30 L743.78 226.39 L744.77 226.49 L745.75 226.56 L746.73 226.61 L747.71 226.70 L748.69 226.78 L749.68 226.82 L750.66 226.85 L751.64 226.88 L752.62 226.89 L753.60 226.91 L754.59 226.94 L755.57 226.98 L756.55 227.02 L757.53 227.09 L758.51 227.15 L759.50 227.22 L760.48 227.26 L761.46 227.30 L762.44 227.36 L763.42 227.42 L764.41 227.49 L765.39 227.53 L766.37 227.60 L767.35 227.65 L768.33 227.68 L769.32 227.73 L770.30 227.80 L771.28 227.85 L772.26 227.90 L773.24 227.98 L774.23 228.05 L775.21 228.13 L776.19 228.20 L777.17 228.23 L778.15 228.28 L779.14 228.33 L780.12 228.39 L781.10 228.44 L782.08 228.50 L783.06 228.57 L784.05 228.63 L785.03 228.70 L786.01 228.79 L786.99 228.86 L787.97 228.90 L788.96 228.96 L789.94 229.05 L790.92 229.14 L791.90 229.18 L792.88 229.21 L793.87 229.22 L794.85 229.24 L795.83 229.24 L796.81 229.25 L797.79 229.26 L798.77 229.27 L799.76 229.29 L800.74 229.32 L801.72 229.36 L802.70 229.42 L803.68 229.49 L804.67 229.56 L805.65 229.62 L806.63 229.72 L807.61 229.78 L808.59 229.83 L809.58 229.88 L810.56 229.90 L811.54 229.98 L812.52 230.06 L812.85 230.09"/>
<path stroke="#08478e" d="M485.85 30.63 L486.18 49.08 L486.50 62.62 L486.83 71.72 L487.16 77.69 L487.49 82.27 L487.81 86.62 L488.14 90.94 L488.47 94.82 L488.80 97.60 L489.12 99.74 L489.45 101.61 L489.78 103.46 L490.11 105.44 L490.43 107.60 L490.76 109.93 L491.09 112.24 L491.41 114.36 L491.74 116.21 L492.07 117.94 L492.40 119.54 L492.72 121.03 L493.05 122.45 L493.38 123.77 L493.71 125.01 L494.03 126.15 L494.36 127.19 L494.69 128.09 L495.02 128.88 L495.34 129.56 L495.67 130.16 L496.00 130.69 L496.32 131.19 L496.65 131.69 L496.98 132.24 L497.31 132.84 L497.63 133.48 L497.96 134.13 L498.29 134.79 L498.62 135.41 L498.94 135.95 L499.27 136.39 L499.60 136.79 L499.93 137.14 L500.25 137.46 L500.58 137.77 L500.91 138.09 L501.23 138.42 L501.56 138.78 L501.89 139.15 L502.22 139.55 L502.54 139.98 L502.87 140.43 L503.20 140.92 L503.53 141.41 L503.85 141.89 L504.18 142.36 L504.51 142.81 L504.83 143.25 L505.16 143.66 L505.49 144.03 L505.82 144.36 L506.14 144.67 L506.47 144.98 L506.80 145.30 L507.13 145.56 L507.45 145.77 L507.78 145.98 L508.11 146.17 L508.44 146.36 L508.76 146.55 L509.09 146.74 L509.42 146.93 L509.74 147.12 L510.07 147.29 L510.40 147.45 L510.73 147.59 L511.05 147.72 L511.38 147.84 L511.71 147.98 L512.04 148.12 L513.02 148.56 L514.00 149.00 L514.98 149.42 L515.96 149.68 L516.95 150.03 L517.93 150.54 L518.91 151.80 L519.89 152.77 L520.87 153.09 L521.86 153.57 L522.84 154.27 L523.82 154.68 L524.80 154.91 L525.78 155.02 L526.77 155.19 L527.75 155.46 L528.73 156.01 L529.71 156.60 L530.69 157.00 L531.68 157.30 L532.66 157.53 L533.64 157.91 L534.62 158.58 L535.60 159.53 L536.59 160.11 L537.57 160.46 L538.55 160.75 L539.53 161.15 L540.51 161.45 L541.50 161.66 L542.48 161.86 L543.46 161.95 L544.44 162.15 L545.42 162.32 L546.41 162.43 L547.39 162.59 L548.37 162.72 L549.35 162.72 L550.33 162.85 L551.32 163.07 L552.30 163.31 L553.28 163.42 L554.26 163.55 L555.24 163.80 L556.23 164.12 L557.21 164.44 L558.19 164.73 L559.17 164.94 L560.15 165.16 L561.14 165.36 L562.12 165.55 L563.10 165.79 L564.08 165.99 L565.06 166.24 L566.05 166.38 L567.03 166.44 L568.01 166.64 L568.99 166.81 L569.97 166.88 L570.96 166.98 L571.94 167.09 L572.92 167.23 L573.90 167.37 L574.88 167.48 L575.87 167.57 L576.85 167.72 L577.83 167.84 L578.81 167.93 L579.79 168.05 L580.77 168.15 L581.76 168.19 L582.74 168.31 L583.72 168.43 L584.70 168.52 L585.68 168.63 L586.67 168.78 L587.65 169.00 L588.63 169.15 L589.61 169.31 L590.59 169.42 L591.58 169.55 L592.56 169.69 L593.54 169.80 L594.52 169.88 L595.50 169.99 L596.49 170.15 L597.47 170.27 L598.45 170.35 L599.43 170.39 L600.41 170.52 L601.40 170.65 L602.38 170.73 L603.36 170.74 L604.34 170.85 L605.32 171.02 L606.31 171.13 L607.29 171.18 L608.27 171.25 L609.25 171.36 L610.23 171.45 L611.22 171.63 L612.20 171.78 L613.18 171.91 L614.16 172.04 L615.14 172.12 L616.13 172.25 L617.11 172.38 L618.09 172.50 L619.07 172.64 L620.05 172.69 L621.04 172.78 L622.02 172.90 L623.00 172.97 L623.98 173.11 L624.96 173.22 L625.95 173.26 L626.93 173.31 L627.91 173.36 L628.89 173.40 L629.87 173.44 L630.86 173.48 L631.84 173.54 L632.82 173.55 L633.80 173.59 L634.78 173.65 L635.77 173.71 L636.75 173.79 L637.73 173.84 L638.71 173.89 L639.69 173.94 L640.68 173.97 L641.66 174.01 L642.64 174.10 L643.62 174.22 L644.60 174.30 L645.59 174.38 L646.57 174.50 L647.55 174.60 L648.53 174.69 L649.51 174.77 L650.50 174.84 L651.48 174.90 L652.46 174.93 L653.44 174.99 L654.42 175.07 L655.41 175.15 L656.39 175.20 L657.37 175.27 L658.35 175.32 L659.33 175.38 L660.32 175.45 L661.30 175.51 L662.28 175.58 L663.26 175.70 L664.24 175.80 L665.23 175.85 L666.21 175.88 L667.19 175.92 L668.17 176.00 L669.15 176.10 L670.14 176.19 L671.12 176.29 L672.10 176.36 L673.08 176.41 L674.06 176.44 L675.05 176.49 L676.03 176.55 L677.01 176.61 L677.99 176.66 L678.97 176.71 L679.96 176.80 L680.94 176.89 L681.92 176.98 L682.90 177.10 L683.88 177.21 L684.87 177.34 L685.85 177.39 L686.83 177.42 L687.81 177.47 L688.79 177.55 L689.77 177.61 L690.76 177.69 L691.74 177.77 L692.72 177.84 L693.70 177.90 L694.68 177.92 L695.67 177.97 L696.65 178.03 L697.63 178.06 L698.61 178.09 L699.59 178.12 L700.58 178.14 L701.56 178.17 L702.54 178.21 L703.52 178.27 L704.50 178.33 L705.49 178.38 L706.47 178.42 L707.45 178.49 L708.43 178.57 L709.41 178.63 L710.40 178.69 L711.38 178.74 L712.36 178.78 L713.34 178.83 L714.32 178.86 L715.31 178.92 L716.29 178.98 L717.27 179.04 L718.25 179.07 L719.23 179.10 L720.22 179.18 L721.20 179.24 L722.18 179.29 L723.16 179.34 L724.14 179.37 L725.13 179.41 L726.11 179.44 L727.09 179.47 L728.07 179.50 L729.05 179.52 L730.04 179.55 L731.02 179.57 L732.00 179.60 L732.98 179.63 L733.96 179.66 L734.95 179.69 L735.93 179.73 L736.91 179.76 L737.89 179.79 L738.87 179.84 L739.86 179.89 L740.84 179.94 L741.82 180.01 L742.80 180.08 L743.78 180.15 L744.77 180.22 L745.75 180.27 L746.73 180.31 L747.71 180.38 L748.69 180.44 L749.68 180.47 L750.66 180.50 L751.64 180.52 L752.62 180.53 L753.60 180.54 L754.59 180.56 L755.57 180.59 L756.55 180.63 L757.53 180.68 L758.51 180.73 L759.50 180.78 L760.48 180.81 L761.46 180.84 L762.44 180.88 L763.42 180.94 L764.41 180.98 L765.39 181.02 L766.37 181.07 L767.35 181.11 L768.33 181.13 L769.32 181.17 L770.30 181.22 L771.28 181.26 L772.26 181.30 L773.24 181.36 L774.23 181.42 L775.21 181.47 L776.19 181.53 L777.17 181.55 L778.15 181.59 L779.14 181.63 L780.12 181.68 L781.10 181.71 L782.08 181.76 L783.06 181.81 L784.05 181.85 L785.03 181.91 L786.01 181.98 L786.99 182.03 L787.97 182.07 L788.96 182.11 L789.94 182.18 L790.92 182.24 L791.90 182.28 L792.88 182.30 L793.87 182.31 L794.85 182.32 L795.83 182.32 L796.81 182.33 L797.79 182.34 L798.77 182.34 L799.76 182.36 L800.74 182.38 L801.72 182.41 L802.70 182.46 L803.68 182.52 L804.67 182.57 L805.65 182.61 L806.63 182.69 L807.61 182.74 L808.59 182.78 L809.58 182.81 L810.56 182.83 L811.54 182.88 L812.52 182.95 L812.85 182.97"/>
<path stroke="#08306b" d="M485.85 30.63 L812.85 30.63"/>
</g>
<rect x="38.00" y="17.50" width="359.50" height="288.90" fill="none" stroke="#666" stroke-width="1"/>
<rect x="469.50" y="17.50" width="359.70" height="288.90" fill="none" stroke="#666" stroke-width="1"/>
<text class="tk" fill="#737373" stroke="#737373" text-anchor="end" x="34.80" y="298.10">0.0</text>
<text class="tk" fill="#737373" stroke="#737373" text-anchor="end" x="34.80" y="245.36">0.2</text>
<text class="tk" fill="#737373" stroke="#737373" text-anchor="end" x="34.80" y="192.63">0.4</text>
<text class="tk" fill="#737373" stroke="#737373" text-anchor="end" x="34.80" y="139.90">0.6</text>
<text class="tk" fill="#737373" stroke="#737373" text-anchor="end" x="34.80" y="87.17">0.8</text>
<text class="tk" fill="#737373" stroke="#737373" text-anchor="end" x="34.80" y="34.43">1.0</text>
<text class="tk" fill="#262626" stroke="#262626" text-anchor="middle" x="54.34" y="316.50">0</text>
<text class="tk" fill="#262626" stroke="#262626" text-anchor="middle" x="119.77" y="316.50">200</text>
<text class="tk" fill="#262626" stroke="#262626" text-anchor="middle" x="185.20" y="316.50">400</text>
<text class="tk" fill="#262626" stroke="#262626" text-anchor="middle" x="250.63" y="316.50">600</text>
<text class="tk" fill="#262626" stroke="#262626" text-anchor="middle" x="316.06" y="316.50">800</text>
<text class="tk" fill="#262626" stroke="#262626" text-anchor="middle" x="381.49" y="316.50">1000</text>
<text class="tk" fill="#737373" stroke="#737373" text-anchor="end" x="466.30" y="298.10">0.0</text>
<text class="tk" fill="#737373" stroke="#737373" text-anchor="end" x="466.30" y="245.36">0.2</text>
<text class="tk" fill="#737373" stroke="#737373" text-anchor="end" x="466.30" y="192.63">0.4</text>
<text class="tk" fill="#737373" stroke="#737373" text-anchor="end" x="466.30" y="139.90">0.6</text>
<text class="tk" fill="#737373" stroke="#737373" text-anchor="end" x="466.30" y="87.17">0.8</text>
<text class="tk" fill="#737373" stroke="#737373" text-anchor="end" x="466.30" y="34.43">1.0</text>
<text class="tk" fill="#262626" stroke="#262626" text-anchor="middle" x="485.85" y="316.50">0</text>
<text class="tk" fill="#262626" stroke="#262626" text-anchor="middle" x="551.32" y="316.50">200</text>
<text class="tk" fill="#262626" stroke="#262626" text-anchor="middle" x="616.78" y="316.50">400</text>
<text class="tk" fill="#262626" stroke="#262626" text-anchor="middle" x="682.25" y="316.50">600</text>
<text class="tk" fill="#262626" stroke="#262626" text-anchor="middle" x="747.71" y="316.50">800</text>
<text class="tk" fill="#262626" stroke="#262626" text-anchor="middle" x="813.18" y="316.50">1000</text>
<text class="ser" style="font-size:17.85px" text-anchor="middle" x="217.75" y="11.60">Sampling weights</text>
<text class="ser" text-anchor="middle" x="217.75" y="332.90">Class Index</text>
<text class="ser" style="font-size:17.85px" text-anchor="middle" x="649.35" y="11.60">Progressive-balanced sampling</text>
<text class="ser" text-anchor="middle" x="649.35" y="332.90">Class Index</text>
<g transform="translate(10.80 169.70) rotate(-90)"><text font-family="'DejaVu Sans','Liberation Sans',sans-serif" font-style="italic" font-size="17.5px" fill="#000" stroke="#000" stroke-width="0.3" x="0" y="0">p<tspan font-size="12.25px" dy="2.3" dx="-0.4">j</tspan></text></g>
<g transform="translate(442.30 169.70) rotate(-90)"><text font-family="'DejaVu Sans','Liberation Sans',sans-serif" font-style="italic" font-size="17.5px" fill="#000" stroke="#000" stroke-width="0.3" x="0" y="0">p<tspan font-size="12.25px" dy="2.3" dx="-0.4">j</tspan></text></g>
<rect x="232.7" y="132.7" width="159.3" height="58.5" rx="1.8" fill="#fff" fill-opacity="0.8" stroke="#ccc" stroke-opacity="0.8" stroke-width="1"/>
<path d="M237.8 142.70 H262.5" stroke="#000" stroke-width="3.10" stroke-linecap="square" fill="none"/>
<text class="ll" x="272.5" y="147.20">Instance-balanced</text>
<path d="M237.8 160.90 H262.5" stroke="#4169e1" stroke-width="3.10" stroke-linecap="square" fill="none"/>
<text class="ll" x="272.5" y="165.40">Square-root</text>
<path d="M237.8 179.10 H262.5" stroke="#008000" stroke-width="3.10" stroke-linecap="square" fill="none"/>
<text class="ll" x="272.5" y="183.60">Class-balanced</text>
<rect x="767.3" y="21.6" width="57.4" height="94.0" rx="1.5" fill="#fff" fill-opacity="0.8" stroke="#ccc" stroke-opacity="0.8" stroke-width="1"/>
<path d="M770.2 28.90 H788.6" stroke="#d0e1f2" stroke-width="2.60" stroke-linecap="square" fill="none"/>
<text class="lr" x="795.5" y="31.60"><tspan font-style="italic">t </tspan><tspan dx="-1.11" dy="-0.65" font-size="8.3px" stroke-width="0.45">= </tspan><tspan dx="-0.59" dy="0.65">0</tspan></text>
<path d="M770.2 42.00 H788.6" stroke="#9dc9e1" stroke-width="2.60" stroke-linecap="square" fill="none"/>
<text class="lr" x="795.5" y="44.70"><tspan font-style="italic">t </tspan><tspan dx="-1.11" dy="-0.65" font-size="8.3px" stroke-width="0.45">= </tspan><tspan dx="-0.59" dy="0.65">20</tspan></text>
<path d="M770.2 55.10 H788.6" stroke="#59a2cf" stroke-width="2.60" stroke-linecap="square" fill="none"/>
<text class="lr" x="795.5" y="57.80"><tspan font-style="italic">t </tspan><tspan dx="-1.11" dy="-0.65" font-size="8.3px" stroke-width="0.45">= </tspan><tspan dx="-0.59" dy="0.65">40</tspan></text>
<path d="M770.2 68.20 H788.6" stroke="#2575b7" stroke-width="2.60" stroke-linecap="square" fill="none"/>
<text class="lr" x="795.5" y="70.90"><tspan font-style="italic">t </tspan><tspan dx="-1.11" dy="-0.65" font-size="8.3px" stroke-width="0.45">= </tspan><tspan dx="-0.59" dy="0.65">60</tspan></text>
<path d="M770.2 81.30 H788.6" stroke="#135fa7" stroke-width="2.60" stroke-linecap="square" fill="none"/>
<text class="lr" x="795.5" y="84.00"><tspan font-style="italic">t </tspan><tspan dx="-1.11" dy="-0.65" font-size="8.3px" stroke-width="0.45">= </tspan><tspan dx="-0.59" dy="0.65">70</tspan></text>
<path d="M770.2 94.40 H788.6" stroke="#08478e" stroke-width="2.60" stroke-linecap="square" fill="none"/>
<text class="lr" x="795.5" y="97.10"><tspan font-style="italic">t </tspan><tspan dx="-1.11" dy="-0.65" font-size="8.3px" stroke-width="0.45">= </tspan><tspan dx="-0.59" dy="0.65">80</tspan></text>
<path d="M770.2 107.50 H788.6" stroke="#08306b" stroke-width="2.60" stroke-linecap="square" fill="none"/>
<text class="lr" x="795.5" y="110.20"><tspan font-style="italic">t </tspan><tspan dx="-1.11" dy="-0.65" font-size="8.3px" stroke-width="0.45">= </tspan><tspan dx="-0.59" dy="0.65">90</tspan></text>
</svg>
</body></html>
